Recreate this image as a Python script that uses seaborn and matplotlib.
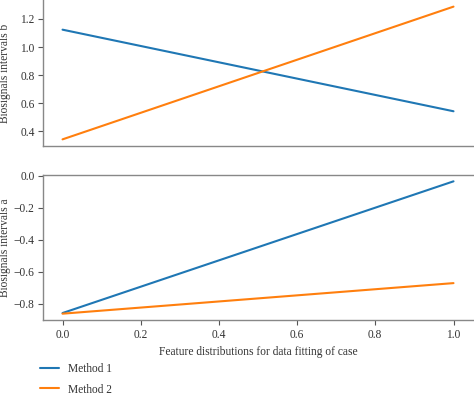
import matplotlib
matplotlib.use("Agg")
import matplotlib.pyplot as plt
import seaborn as sns
import pandas as pd

x_vals = [0.0, 1.0]
method1_b = [1.124, 0.543]
method2_b = [0.343, 1.288]
method1_a = [-0.858, -0.035]
method2_a = [-0.862, -0.671]
series_names = ["Method 1", "Method 2"]
colors = ["#1f77b4", "#ff7f0e"]

sns.set_theme(style="white")
plt.rcParams['font.family'] = ['Liberation Serif', 'DejaVu Serif']
text_color = "#333333"
plt.rcParams['text.color'] = text_color
plt.rcParams['axes.labelcolor'] = text_color
plt.rcParams['xtick.color'] = text_color
plt.rcParams['ytick.color'] = text_color

df_b = pd.DataFrame({
    "x": x_vals * 2,
    "y": method1_b + method2_b,
    "method": [series_names[0]] * 2 + [series_names[1]] * 2,
})
df_a = pd.DataFrame({
    "x": x_vals * 2,
    "y": method1_a + method2_a,
    "method": [series_names[0]] * 2 + [series_names[1]] * 2,
})

fs = 8.3
fig = plt.figure(figsize=(4.74, 3.95), dpi=100)
ax1 = fig.add_axes([0.0907, 0.6304, 0.9073, 0.3696])
ax2 = fig.add_axes([0.0907, 0.1891, 0.9073, 0.3686], sharex=ax1)

palette = dict(zip(series_names, colors))
sns.lineplot(data=df_b, x="x", y="y", hue="method", palette=palette, ax=ax1, linewidth=1.5, legend=False)
sns.lineplot(data=df_a, x="x", y="y", hue="method", palette=palette, ax=ax2, linewidth=1.5)

for ax in (ax1, ax2):
    ax.spines['right'].set_visible(False)
    for s in ax.spines.values():
        s.set_color("#888888")
        s.set_linewidth(1.0)
    ax.tick_params(axis='both', which='both', direction='out', length=3.5, width=0.8,
                   color="#555555", labelsize=fs, left=True, bottom=True, pad=2.5)
ax1.spines['top'].set_visible(False)

ax1.set_yticks([0.4, 0.6, 0.8, 1.0, 1.2])
ax1.set_ylabel("Biosignals intervals b", fontsize=fs)
ax1.set_xlabel("")
ax1.tick_params(axis='x', bottom=False, labelbottom=False)

ax2.set_yticks([-0.8, -0.6, -0.4, -0.2, 0.0])
ax2.set_ylabel("Biosignals intervals a", fontsize=fs)
ax2.set_xticks([0.0, 0.2, 0.4, 0.6, 0.8, 1.0])
ax2.set_xlabel("Feature distributions for data fitting of case", fontsize=fs, labelpad=4)

for ax in (ax1, ax2):
    ax.yaxis.set_label_coords(-0.074, 0.5)

handles, labels = ax2.get_legend_handles_labels()
ax2.get_legend().remove()
fig.legend(handles, labels, loc="upper left", bbox_to_anchor=(0.075, 0.093),
           frameon=False, fontsize=fs, handlelength=1.65, handletextpad=0.75,
           labelspacing=0.75, borderaxespad=0)

fig.savefig("out.png", dpi=100)
